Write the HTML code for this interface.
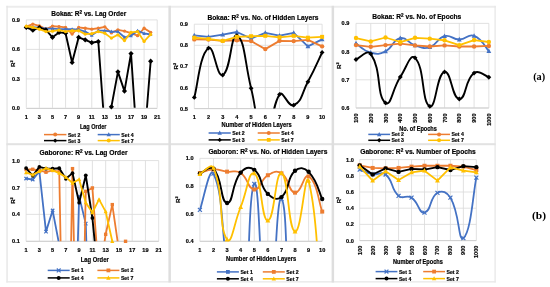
<!DOCTYPE html>
<html><head><meta charset="utf-8"><title>R2 charts</title>
<style>html,body{margin:0;padding:0;background:#fff;} svg{display:block;}</style></head>
<body><svg width="550" height="287" viewBox="0 0 550 287"><rect x="0" y="0" width="550" height="287" fill="#fff"/>
<rect x="6.4" y="5.8" width="489.3" height="1.9" fill="#ececec"/>
<rect x="6.4" y="5.8" width="1.3" height="276.7" fill="#e4e4e4"/>
<rect x="494.5" y="5.8" width="1.2" height="276.7" fill="#e6e6e6"/>
<rect x="6.4" y="281.2" width="489.3" height="1.3" fill="#e8e8e8"/>
<rect x="6.4" y="143.2" width="489.3" height="2" fill="#e2e2e2"/>
<rect x="168.4" y="5.8" width="2.5" height="276.7" fill="#dedede"/>
<rect x="331.6" y="5.8" width="2.5" height="276.7" fill="#dedede"/>
<path d="M26.3,108.4H157.2 M26.3,78.9H157.2 M26.3,49.4H157.2 M26.3,19.9H157.2 M26.3,19.8V107.8 M39.39,19.8V107.8 M52.48,19.8V107.8 M65.57,19.8V107.8 M78.66,19.8V107.8 M91.75,19.8V107.8 M104.84,19.8V107.8 M117.93,19.8V107.8 M131.02,19.8V107.8 M144.11,19.8V107.8 M157.2,19.8V107.8" stroke="#D9D9D9" stroke-width="0.8" fill="none"/>
<path d="M26.3,108.4H157.2" stroke="#cfcfcf" stroke-width="1" fill="none"/>
<text x="19.9" y="110.42" font-size="5.6" font-weight="bold" text-anchor="end" fill="#000" stroke="#000" stroke-width="0.18" font-family='"Liberation Sans", Arial, sans-serif'>0.0</text>
<text x="19.9" y="80.92" font-size="5.6" font-weight="bold" text-anchor="end" fill="#000" stroke="#000" stroke-width="0.18" font-family='"Liberation Sans", Arial, sans-serif'>0.3</text>
<text x="19.9" y="51.42" font-size="5.6" font-weight="bold" text-anchor="end" fill="#000" stroke="#000" stroke-width="0.18" font-family='"Liberation Sans", Arial, sans-serif'>0.6</text>
<text x="19.9" y="21.92" font-size="5.6" font-weight="bold" text-anchor="end" fill="#000" stroke="#000" stroke-width="0.18" font-family='"Liberation Sans", Arial, sans-serif'>0.9</text>
<text x="26.3" y="118.8" font-size="5.6" font-weight="bold" text-anchor="middle" fill="#000" stroke="#000" stroke-width="0.18" font-family='"Liberation Sans", Arial, sans-serif'>1</text>
<text x="39.39" y="118.8" font-size="5.6" font-weight="bold" text-anchor="middle" fill="#000" stroke="#000" stroke-width="0.18" font-family='"Liberation Sans", Arial, sans-serif'>3</text>
<text x="52.48" y="118.8" font-size="5.6" font-weight="bold" text-anchor="middle" fill="#000" stroke="#000" stroke-width="0.18" font-family='"Liberation Sans", Arial, sans-serif'>5</text>
<text x="65.57" y="118.8" font-size="5.6" font-weight="bold" text-anchor="middle" fill="#000" stroke="#000" stroke-width="0.18" font-family='"Liberation Sans", Arial, sans-serif'>7</text>
<text x="78.66" y="118.8" font-size="5.6" font-weight="bold" text-anchor="middle" fill="#000" stroke="#000" stroke-width="0.18" font-family='"Liberation Sans", Arial, sans-serif'>9</text>
<text x="91.75" y="118.8" font-size="5.6" font-weight="bold" text-anchor="middle" fill="#000" stroke="#000" stroke-width="0.18" font-family='"Liberation Sans", Arial, sans-serif'>11</text>
<text x="104.84" y="118.8" font-size="5.6" font-weight="bold" text-anchor="middle" fill="#000" stroke="#000" stroke-width="0.18" font-family='"Liberation Sans", Arial, sans-serif'>13</text>
<text x="117.93" y="118.8" font-size="5.6" font-weight="bold" text-anchor="middle" fill="#000" stroke="#000" stroke-width="0.18" font-family='"Liberation Sans", Arial, sans-serif'>15</text>
<text x="131.02" y="118.8" font-size="5.6" font-weight="bold" text-anchor="middle" fill="#000" stroke="#000" stroke-width="0.18" font-family='"Liberation Sans", Arial, sans-serif'>17</text>
<text x="144.11" y="118.8" font-size="5.6" font-weight="bold" text-anchor="middle" fill="#000" stroke="#000" stroke-width="0.18" font-family='"Liberation Sans", Arial, sans-serif'>19</text>
<text x="157.2" y="118.8" font-size="5.6" font-weight="bold" text-anchor="middle" fill="#000" stroke="#000" stroke-width="0.18" font-family='"Liberation Sans", Arial, sans-serif'>21</text>
<clipPath id="c1"><rect x="23.3" y="16.8" width="136.9" height="91"/></clipPath>
<g clip-path="url(#c1)">
<path d="M26.3,26.64 L32.84,24.13 L39.39,25.84 L45.94,29.16 L52.48,26.24 L59.03,26.64 L65.57,27.45 L72.11,34.08 L78.66,27.45 L85.2,28.25 L91.75,29.16 L98.3,28.25 L104.84,26.94 L111.38,32.88 L117.93,29.86 L124.47,31.07 L131.02,33.18 L137.56,35.69 L144.11,28.25 L150.66,32.37" stroke="#ED7D31" stroke-width="1.8" fill="none" stroke-linejoin="round" stroke-linecap="round"/>
</g>
<circle cx="26.3" cy="26.64" r="1.65" fill="#ED7D31"/>
<circle cx="32.84" cy="24.13" r="1.65" fill="#ED7D31"/>
<circle cx="39.39" cy="25.84" r="1.65" fill="#ED7D31"/>
<circle cx="45.94" cy="29.16" r="1.65" fill="#ED7D31"/>
<circle cx="52.48" cy="26.24" r="1.65" fill="#ED7D31"/>
<circle cx="59.03" cy="26.64" r="1.65" fill="#ED7D31"/>
<circle cx="65.57" cy="27.45" r="1.65" fill="#ED7D31"/>
<circle cx="72.11" cy="34.08" r="1.65" fill="#ED7D31"/>
<circle cx="78.66" cy="27.45" r="1.65" fill="#ED7D31"/>
<circle cx="85.2" cy="28.25" r="1.65" fill="#ED7D31"/>
<circle cx="91.75" cy="29.16" r="1.65" fill="#ED7D31"/>
<circle cx="98.3" cy="28.25" r="1.65" fill="#ED7D31"/>
<circle cx="104.84" cy="26.94" r="1.65" fill="#ED7D31"/>
<circle cx="111.38" cy="32.88" r="1.65" fill="#ED7D31"/>
<circle cx="117.93" cy="29.86" r="1.65" fill="#ED7D31"/>
<circle cx="124.47" cy="31.07" r="1.65" fill="#ED7D31"/>
<circle cx="131.02" cy="33.18" r="1.65" fill="#ED7D31"/>
<circle cx="137.56" cy="35.69" r="1.65" fill="#ED7D31"/>
<circle cx="144.11" cy="28.25" r="1.65" fill="#ED7D31"/>
<circle cx="150.66" cy="32.37" r="1.65" fill="#ED7D31"/>
<g clip-path="url(#c1)">
<path d="M26.3,26.64 L32.84,27.15 L39.39,27.65 L45.94,28.65 L52.48,28.65 L59.03,29.16 L65.57,29.16 L72.11,29.16 L78.66,29.66 L85.2,31.57 L91.75,35.19 L98.3,30.67 L104.84,30.67 L111.38,31.57 L117.93,31.57 L124.47,37.3 L131.02,35.69 L137.56,30.67 L144.11,33.48 L150.66,34.49" stroke="#4472C4" stroke-width="1.8" fill="none" stroke-linejoin="round" stroke-linecap="round"/>
</g>
<polygon points="26.3,24.66 28.1,28.08 24.5,28.08" fill="#4472C4"/>
<polygon points="32.84,25.17 34.64,28.59 31.04,28.59" fill="#4472C4"/>
<polygon points="39.39,25.67 41.19,29.09 37.59,29.09" fill="#4472C4"/>
<polygon points="45.94,26.67 47.73,30.09 44.14,30.09" fill="#4472C4"/>
<polygon points="52.48,26.67 54.28,30.09 50.68,30.09" fill="#4472C4"/>
<polygon points="59.03,27.18 60.83,30.6 57.23,30.6" fill="#4472C4"/>
<polygon points="65.57,27.18 67.37,30.6 63.77,30.6" fill="#4472C4"/>
<polygon points="72.11,27.18 73.91,30.6 70.31,30.6" fill="#4472C4"/>
<polygon points="78.66,27.68 80.46,31.1 76.86,31.1" fill="#4472C4"/>
<polygon points="85.2,29.59 87,33.01 83.41,33.01" fill="#4472C4"/>
<polygon points="91.75,33.21 93.55,36.63 89.95,36.63" fill="#4472C4"/>
<polygon points="98.3,28.69 100.09,32.11 96.5,32.11" fill="#4472C4"/>
<polygon points="104.84,28.69 106.64,32.11 103.04,32.11" fill="#4472C4"/>
<polygon points="111.38,29.59 113.18,33.01 109.58,33.01" fill="#4472C4"/>
<polygon points="117.93,29.59 119.73,33.01 116.13,33.01" fill="#4472C4"/>
<polygon points="124.47,35.32 126.27,38.74 122.67,38.74" fill="#4472C4"/>
<polygon points="131.02,33.71 132.82,37.13 129.22,37.13" fill="#4472C4"/>
<polygon points="137.56,28.69 139.37,32.11 135.76,32.11" fill="#4472C4"/>
<polygon points="144.11,31.5 145.91,34.92 142.31,34.92" fill="#4472C4"/>
<polygon points="150.66,32.51 152.46,35.93 148.85,35.93" fill="#4472C4"/>
<g clip-path="url(#c1)">
<path d="M26.3,27.47 L32.84,30.13 L39.39,27.57 L45.94,29.93 L52.48,37.31 L59.03,32.39 L65.57,33.18 L72.11,62.48 L78.66,37.31 L85.2,39.86 L91.75,42.72 L98.3,41.54 L104.84,130.72 L111.38,106.83 L117.93,71.82 L124.47,91.09 L131.02,53.53 L137.56,150.68 L144.11,143.8 L150.66,61.2" stroke="#000000" stroke-width="1.9" fill="none" stroke-linejoin="round" stroke-linecap="round"/>
</g>
<polygon points="26.3,24.87 28.9,27.47 26.3,30.07 23.7,27.47" fill="#000000"/>
<polygon points="32.84,27.53 35.45,30.13 32.84,32.73 30.24,30.13" fill="#000000"/>
<polygon points="39.39,24.97 41.99,27.57 39.39,30.17 36.79,27.57" fill="#000000"/>
<polygon points="45.94,27.33 48.54,29.93 45.94,32.53 43.34,29.93" fill="#000000"/>
<polygon points="52.48,34.71 55.08,37.31 52.48,39.91 49.88,37.31" fill="#000000"/>
<polygon points="59.03,29.79 61.63,32.39 59.03,34.99 56.43,32.39" fill="#000000"/>
<polygon points="65.57,30.58 68.17,33.18 65.57,35.78 62.97,33.18" fill="#000000"/>
<polygon points="72.11,59.88 74.71,62.48 72.11,65.08 69.52,62.48" fill="#000000"/>
<polygon points="78.66,34.71 81.26,37.31 78.66,39.91 76.06,37.31" fill="#000000"/>
<polygon points="85.2,37.26 87.8,39.86 85.2,42.46 82.61,39.86" fill="#000000"/>
<polygon points="91.75,40.12 94.35,42.72 91.75,45.32 89.15,42.72" fill="#000000"/>
<polygon points="98.3,38.94 100.89,41.54 98.3,44.14 95.7,41.54" fill="#000000"/>
<polygon points="111.38,104.23 113.98,106.83 111.38,109.43 108.78,106.83" fill="#000000"/>
<polygon points="117.93,69.22 120.53,71.82 117.93,74.42 115.33,71.82" fill="#000000"/>
<polygon points="124.47,88.49 127.07,91.09 124.47,93.69 121.88,91.09" fill="#000000"/>
<polygon points="131.02,50.93 133.62,53.53 131.02,56.13 128.42,53.53" fill="#000000"/>
<polygon points="150.66,58.6 153.25,61.2 150.66,63.8 148.06,61.2" fill="#000000"/>
<g clip-path="url(#c1)">
<path d="M26.3,26.24 L32.84,27.35 L39.39,29.16 L45.94,31.57 L52.48,31.17 L59.03,30.16 L65.57,31.57 L72.11,30.77 L78.66,30.77 L85.2,34.08 L91.75,33.68 L98.3,31.57 L104.84,33.18 L111.38,38.11 L117.93,34.79 L124.47,40.62 L131.02,32.37 L137.56,31.57 L144.11,41.43 L150.66,34.49" stroke="#FFC000" stroke-width="1.8" fill="none" stroke-linejoin="round" stroke-linecap="round"/>
</g>
<circle cx="26.3" cy="26.24" r="1.65" fill="#FFC000"/>
<circle cx="32.84" cy="27.35" r="1.65" fill="#FFC000"/>
<circle cx="39.39" cy="29.16" r="1.65" fill="#FFC000"/>
<circle cx="45.94" cy="31.57" r="1.65" fill="#FFC000"/>
<circle cx="52.48" cy="31.17" r="1.65" fill="#FFC000"/>
<circle cx="59.03" cy="30.16" r="1.65" fill="#FFC000"/>
<circle cx="65.57" cy="31.57" r="1.65" fill="#FFC000"/>
<circle cx="72.11" cy="30.77" r="1.65" fill="#FFC000"/>
<circle cx="78.66" cy="30.77" r="1.65" fill="#FFC000"/>
<circle cx="85.2" cy="34.08" r="1.65" fill="#FFC000"/>
<circle cx="91.75" cy="33.68" r="1.65" fill="#FFC000"/>
<circle cx="98.3" cy="31.57" r="1.65" fill="#FFC000"/>
<circle cx="104.84" cy="33.18" r="1.65" fill="#FFC000"/>
<circle cx="111.38" cy="38.11" r="1.65" fill="#FFC000"/>
<circle cx="117.93" cy="34.79" r="1.65" fill="#FFC000"/>
<circle cx="124.47" cy="40.62" r="1.65" fill="#FFC000"/>
<circle cx="131.02" cy="32.37" r="1.65" fill="#FFC000"/>
<circle cx="137.56" cy="31.57" r="1.65" fill="#FFC000"/>
<circle cx="144.11" cy="41.43" r="1.65" fill="#FFC000"/>
<circle cx="150.66" cy="34.49" r="1.65" fill="#FFC000"/>
<g clip-path="url(#c1)">
</g>
<text x="51.2" y="16.1" font-size="7.2" font-weight="bold" text-anchor="start" fill="#000" stroke="#000" stroke-width="0.18" textLength="75" lengthAdjust="spacingAndGlyphs" font-family='"Liberation Sans", Arial, sans-serif'>Bokaa: R<tspan dy="-2.2" font-size="70%">2</tspan><tspan dy="2.2"> </tspan>vs. Lag Order</text>
<text x="79.9" y="128.6" font-size="6.6" font-weight="bold" text-anchor="start" fill="#000" stroke="#000" stroke-width="0.18" textLength="26.5" lengthAdjust="spacingAndGlyphs" font-family='"Liberation Sans", Arial, sans-serif'>Lag Order</text>
<text transform="translate(15,63.8) rotate(-90)" font-size="6.2" font-weight="bold" text-anchor="middle" stroke="#000" stroke-width="0.18" font-family='"Liberation Sans", Arial, sans-serif'>R²</text>
<path d="M44,134.6H66.4" stroke="#ED7D31" stroke-width="1.5"/>
<circle cx="55.2" cy="134.6" r="2" fill="#ED7D31"/>
<text x="67.9" y="136.5" font-size="5.2" font-weight="bold" text-anchor="start" fill="#000" stroke="#000" stroke-width="0.18" font-family='"Liberation Sans", Arial, sans-serif'>Set 2</text>
<path d="M97.7,134.6H119.8" stroke="#4472C4" stroke-width="1.5"/>
<polygon points="108.75,132.18 110.95,136.36 106.55,136.36" fill="#4472C4"/>
<text x="121.3" y="136.5" font-size="5.2" font-weight="bold" text-anchor="start" fill="#000" stroke="#000" stroke-width="0.18" font-family='"Liberation Sans", Arial, sans-serif'>Set 4</text>
<path d="M44,140.6H66.4" stroke="#000000" stroke-width="1.5"/>
<polygon points="55.2,138.4 57.4,140.6 55.2,142.8 53,140.6" fill="#000000"/>
<text x="67.9" y="142.5" font-size="5.2" font-weight="bold" text-anchor="start" fill="#000" stroke="#000" stroke-width="0.18" font-family='"Liberation Sans", Arial, sans-serif'>Set 3</text>
<path d="M97.7,140.6H119.8" stroke="#FFC000" stroke-width="1.5"/>
<circle cx="108.75" cy="140.6" r="2" fill="#FFC000"/>
<text x="121.3" y="142.5" font-size="5.2" font-weight="bold" text-anchor="start" fill="#000" stroke="#000" stroke-width="0.18" font-family='"Liberation Sans", Arial, sans-serif'>Set 7</text>
<path d="M194.3,108.6H322.1 M194.3,87.5H322.1 M194.3,66.4H322.1 M194.3,45.3H322.1 M194.3,24.2H322.1 M194.3,24.2V108.6 M208.5,24.2V108.6 M222.7,24.2V108.6 M236.9,24.2V108.6 M251.1,24.2V108.6 M265.3,24.2V108.6 M279.5,24.2V108.6 M293.7,24.2V108.6 M307.9,24.2V108.6 M322.1,24.2V108.6" stroke="#D9D9D9" stroke-width="0.8" fill="none"/>
<path d="M194.3,108.6H322.1" stroke="#cfcfcf" stroke-width="1" fill="none"/>
<text x="187.9" y="110.62" font-size="5.6" font-weight="bold" text-anchor="end" fill="#000" stroke="#000" stroke-width="0.18" font-family='"Liberation Sans", Arial, sans-serif'>0.5</text>
<text x="187.9" y="89.52" font-size="5.6" font-weight="bold" text-anchor="end" fill="#000" stroke="#000" stroke-width="0.18" font-family='"Liberation Sans", Arial, sans-serif'>0.6</text>
<text x="187.9" y="68.42" font-size="5.6" font-weight="bold" text-anchor="end" fill="#000" stroke="#000" stroke-width="0.18" font-family='"Liberation Sans", Arial, sans-serif'>0.7</text>
<text x="187.9" y="47.32" font-size="5.6" font-weight="bold" text-anchor="end" fill="#000" stroke="#000" stroke-width="0.18" font-family='"Liberation Sans", Arial, sans-serif'>0.8</text>
<text x="187.9" y="26.22" font-size="5.6" font-weight="bold" text-anchor="end" fill="#000" stroke="#000" stroke-width="0.18" font-family='"Liberation Sans", Arial, sans-serif'>0.9</text>
<text x="194.3" y="119" font-size="5.6" font-weight="bold" text-anchor="middle" fill="#000" stroke="#000" stroke-width="0.18" font-family='"Liberation Sans", Arial, sans-serif'>1</text>
<text x="208.5" y="119" font-size="5.6" font-weight="bold" text-anchor="middle" fill="#000" stroke="#000" stroke-width="0.18" font-family='"Liberation Sans", Arial, sans-serif'>2</text>
<text x="222.7" y="119" font-size="5.6" font-weight="bold" text-anchor="middle" fill="#000" stroke="#000" stroke-width="0.18" font-family='"Liberation Sans", Arial, sans-serif'>3</text>
<text x="236.9" y="119" font-size="5.6" font-weight="bold" text-anchor="middle" fill="#000" stroke="#000" stroke-width="0.18" font-family='"Liberation Sans", Arial, sans-serif'>4</text>
<text x="251.1" y="119" font-size="5.6" font-weight="bold" text-anchor="middle" fill="#000" stroke="#000" stroke-width="0.18" font-family='"Liberation Sans", Arial, sans-serif'>5</text>
<text x="265.3" y="119" font-size="5.6" font-weight="bold" text-anchor="middle" fill="#000" stroke="#000" stroke-width="0.18" font-family='"Liberation Sans", Arial, sans-serif'>6</text>
<text x="279.5" y="119" font-size="5.6" font-weight="bold" text-anchor="middle" fill="#000" stroke="#000" stroke-width="0.18" font-family='"Liberation Sans", Arial, sans-serif'>7</text>
<text x="293.7" y="119" font-size="5.6" font-weight="bold" text-anchor="middle" fill="#000" stroke="#000" stroke-width="0.18" font-family='"Liberation Sans", Arial, sans-serif'>8</text>
<text x="307.9" y="119" font-size="5.6" font-weight="bold" text-anchor="middle" fill="#000" stroke="#000" stroke-width="0.18" font-family='"Liberation Sans", Arial, sans-serif'>9</text>
<text x="322.1" y="119" font-size="5.6" font-weight="bold" text-anchor="middle" fill="#000" stroke="#000" stroke-width="0.18" font-family='"Liberation Sans", Arial, sans-serif'>10</text>
<clipPath id="c2"><rect x="191.3" y="21.2" width="133.8" height="87.4"/></clipPath>
<g clip-path="url(#c2)">
<path d="M194.3,35.38 L208.5,36.86 L222.7,34.54 L236.9,32.01 L251.1,38.55 L265.3,32.85 L279.5,35.59 L293.7,32.85 L307.9,46.35 L322.1,39.39" stroke="#4472C4" stroke-width="1.8" fill="none" stroke-linejoin="round" stroke-linecap="round"/>
</g>
<polygon points="194.3,32.74 196.7,37.3 191.9,37.3" fill="#4472C4"/>
<polygon points="208.5,34.22 210.9,38.78 206.1,38.78" fill="#4472C4"/>
<polygon points="222.7,31.9 225.1,36.46 220.3,36.46" fill="#4472C4"/>
<polygon points="236.9,29.37 239.3,33.93 234.5,33.93" fill="#4472C4"/>
<polygon points="251.1,35.91 253.5,40.47 248.7,40.47" fill="#4472C4"/>
<polygon points="265.3,30.21 267.7,34.77 262.9,34.77" fill="#4472C4"/>
<polygon points="279.5,32.95 281.9,37.51 277.1,37.51" fill="#4472C4"/>
<polygon points="293.7,30.21 296.1,34.77 291.3,34.77" fill="#4472C4"/>
<polygon points="307.9,43.71 310.3,48.27 305.5,48.27" fill="#4472C4"/>
<polygon points="322.1,36.75 324.5,41.31 319.7,41.31" fill="#4472C4"/>
<g clip-path="url(#c2)">
<path d="M194.3,39.39 L208.5,39.6 L222.7,40.87 L236.9,40.24 L251.1,41.08 L265.3,49.1 L279.5,40.87 L293.7,41.08 L307.9,39.81 L322.1,46.35" stroke="#ED7D31" stroke-width="1.8" fill="none" stroke-linejoin="round" stroke-linecap="round"/>
</g>
<circle cx="194.3" cy="39.39" r="2.2" fill="#ED7D31"/>
<circle cx="208.5" cy="39.6" r="2.2" fill="#ED7D31"/>
<circle cx="222.7" cy="40.87" r="2.2" fill="#ED7D31"/>
<circle cx="236.9" cy="40.24" r="2.2" fill="#ED7D31"/>
<circle cx="251.1" cy="41.08" r="2.2" fill="#ED7D31"/>
<circle cx="265.3" cy="49.1" r="2.2" fill="#ED7D31"/>
<circle cx="279.5" cy="40.87" r="2.2" fill="#ED7D31"/>
<circle cx="293.7" cy="41.08" r="2.2" fill="#ED7D31"/>
<circle cx="307.9" cy="39.81" r="2.2" fill="#ED7D31"/>
<circle cx="322.1" cy="46.35" r="2.2" fill="#ED7D31"/>
<g clip-path="url(#c2)">
<path d="M194.3,97.42 C197.85,85.07 199.59,55.06 208.5,48.04 C213.79,43.88 216.72,77.67 222.7,75.05 C230.92,71.45 230.73,32.71 236.9,35.59 C244.93,39.35 244.56,61.83 251.1,88.34 C258.76,119.43 257.85,149.2 265.3,150.8 C272.05,152.26 268.63,111.9 279.5,94.46 C282.83,89.11 288.1,107.72 293.7,105.22 C302.3,101.39 301.42,93.85 307.9,81.8 C315.62,67.47 318.55,59.81 322.1,52.47" stroke="#000000" stroke-width="1.9" fill="none" stroke-linejoin="round" stroke-linecap="round"/>
</g>
<polygon points="194.3,95.02 196.7,97.42 194.3,99.82 191.9,97.42" fill="#000000"/>
<polygon points="208.5,45.64 210.9,48.04 208.5,50.44 206.1,48.04" fill="#000000"/>
<polygon points="222.7,72.65 225.1,75.05 222.7,77.45 220.3,75.05" fill="#000000"/>
<polygon points="236.9,33.19 239.3,35.59 236.9,37.99 234.5,35.59" fill="#000000"/>
<polygon points="251.1,85.94 253.5,88.34 251.1,90.74 248.7,88.34" fill="#000000"/>
<polygon points="279.5,92.06 281.9,94.46 279.5,96.86 277.1,94.46" fill="#000000"/>
<polygon points="293.7,102.82 296.1,105.22 293.7,107.62 291.3,105.22" fill="#000000"/>
<polygon points="307.9,79.4 310.3,81.8 307.9,84.2 305.5,81.8" fill="#000000"/>
<polygon points="322.1,50.07 324.5,52.47 322.1,54.87 319.7,52.47" fill="#000000"/>
<g clip-path="url(#c2)">
<path d="M194.3,37.7 L208.5,38.97 L222.7,40.87 L236.9,36.86 L251.1,36.23 L265.3,35.81 L279.5,37.28 L293.7,35.81 L307.9,37.7 L322.1,36.86" stroke="#FFC000" stroke-width="1.8" fill="none" stroke-linejoin="round" stroke-linecap="round"/>
</g>
<rect x="192.3" y="35.7" width="4" height="4" fill="#FFC000"/>
<rect x="206.5" y="36.97" width="4" height="4" fill="#FFC000"/>
<rect x="220.7" y="38.87" width="4" height="4" fill="#FFC000"/>
<rect x="234.9" y="34.86" width="4" height="4" fill="#FFC000"/>
<rect x="249.1" y="34.23" width="4" height="4" fill="#FFC000"/>
<rect x="263.3" y="33.81" width="4" height="4" fill="#FFC000"/>
<rect x="277.5" y="35.28" width="4" height="4" fill="#FFC000"/>
<rect x="291.7" y="33.81" width="4" height="4" fill="#FFC000"/>
<rect x="305.9" y="35.7" width="4" height="4" fill="#FFC000"/>
<rect x="320.1" y="34.86" width="4" height="4" fill="#FFC000"/>
<g clip-path="url(#c2)">
</g>
<text x="207.5" y="19.8" font-size="7" font-weight="bold" text-anchor="start" fill="#000" stroke="#000" stroke-width="0.18" textLength="111" lengthAdjust="spacingAndGlyphs" font-family='"Liberation Sans", Arial, sans-serif'>Bokaa: R<tspan dy="-2.2" font-size="70%">2</tspan><tspan dy="2.2"> </tspan>vs. No. of Hidden Layers</text>
<text x="221.6" y="126.8" font-size="6.4" font-weight="bold" text-anchor="start" fill="#000" stroke="#000" stroke-width="0.18" textLength="70" lengthAdjust="spacingAndGlyphs" font-family='"Liberation Sans", Arial, sans-serif'>Number of Hidden Layers</text>
<text transform="translate(177.6,66.3) rotate(-90)" font-size="6.2" font-weight="bold" text-anchor="middle" stroke="#000" stroke-width="0.18" font-family='"Liberation Sans", Arial, sans-serif'>R²</text>
<path d="M208.6,133H230.8" stroke="#4472C4" stroke-width="1.5"/>
<polygon points="219.7,130.58 221.9,134.76 217.5,134.76" fill="#4472C4"/>
<text x="232.3" y="134.9" font-size="5.2" font-weight="bold" text-anchor="start" fill="#000" stroke="#000" stroke-width="0.18" font-family='"Liberation Sans", Arial, sans-serif'>Set 2</text>
<path d="M257.7,133H279.8" stroke="#ED7D31" stroke-width="1.5"/>
<circle cx="268.75" cy="133" r="2" fill="#ED7D31"/>
<text x="281.3" y="134.9" font-size="5.2" font-weight="bold" text-anchor="start" fill="#000" stroke="#000" stroke-width="0.18" font-family='"Liberation Sans", Arial, sans-serif'>Set 4</text>
<path d="M208.6,139.9H230.8" stroke="#000000" stroke-width="1.5"/>
<polygon points="219.7,137.7 221.9,139.9 219.7,142.1 217.5,139.9" fill="#000000"/>
<text x="232.3" y="141.8" font-size="5.2" font-weight="bold" text-anchor="start" fill="#000" stroke="#000" stroke-width="0.18" font-family='"Liberation Sans", Arial, sans-serif'>Set 3</text>
<path d="M257.7,139.9H279.8" stroke="#FFC000" stroke-width="1.5"/>
<rect x="266.85" y="138" width="3.8" height="3.8" fill="#FFC000"/>
<text x="281.3" y="141.8" font-size="5.2" font-weight="bold" text-anchor="start" fill="#000" stroke="#000" stroke-width="0.18" font-family='"Liberation Sans", Arial, sans-serif'>Set 7</text>
<path d="M356,108H488.8 M356,79.8H488.8 M356,51.6H488.8 M356,23.4H488.8 M356,23.4V108 M370.76,23.4V108 M385.52,23.4V108 M400.28,23.4V108 M415.04,23.4V108 M429.8,23.4V108 M444.56,23.4V108 M459.32,23.4V108 M474.08,23.4V108 M488.84,23.4V108" stroke="#D9D9D9" stroke-width="0.8" fill="none"/>
<path d="M356,108H488.8" stroke="#cfcfcf" stroke-width="1" fill="none"/>
<text x="349.4" y="110.02" font-size="5.6" font-weight="bold" text-anchor="end" fill="#000" stroke="#000" stroke-width="0.18" font-family='"Liberation Sans", Arial, sans-serif'>0.6</text>
<text x="349.4" y="81.82" font-size="5.6" font-weight="bold" text-anchor="end" fill="#000" stroke="#000" stroke-width="0.18" font-family='"Liberation Sans", Arial, sans-serif'>0.7</text>
<text x="349.4" y="53.62" font-size="5.6" font-weight="bold" text-anchor="end" fill="#000" stroke="#000" stroke-width="0.18" font-family='"Liberation Sans", Arial, sans-serif'>0.8</text>
<text x="349.4" y="25.42" font-size="5.6" font-weight="bold" text-anchor="end" fill="#000" stroke="#000" stroke-width="0.18" font-family='"Liberation Sans", Arial, sans-serif'>0.9</text>
<text transform="translate(358.02,113.4) rotate(-90)" font-size="5.6" font-weight="bold" text-anchor="end" stroke="#000" stroke-width="0.18" font-family='"Liberation Sans", Arial, sans-serif'>100</text>
<text transform="translate(372.78,113.4) rotate(-90)" font-size="5.6" font-weight="bold" text-anchor="end" stroke="#000" stroke-width="0.18" font-family='"Liberation Sans", Arial, sans-serif'>200</text>
<text transform="translate(387.54,113.4) rotate(-90)" font-size="5.6" font-weight="bold" text-anchor="end" stroke="#000" stroke-width="0.18" font-family='"Liberation Sans", Arial, sans-serif'>300</text>
<text transform="translate(402.3,113.4) rotate(-90)" font-size="5.6" font-weight="bold" text-anchor="end" stroke="#000" stroke-width="0.18" font-family='"Liberation Sans", Arial, sans-serif'>400</text>
<text transform="translate(417.06,113.4) rotate(-90)" font-size="5.6" font-weight="bold" text-anchor="end" stroke="#000" stroke-width="0.18" font-family='"Liberation Sans", Arial, sans-serif'>500</text>
<text transform="translate(431.82,113.4) rotate(-90)" font-size="5.6" font-weight="bold" text-anchor="end" stroke="#000" stroke-width="0.18" font-family='"Liberation Sans", Arial, sans-serif'>600</text>
<text transform="translate(446.58,113.4) rotate(-90)" font-size="5.6" font-weight="bold" text-anchor="end" stroke="#000" stroke-width="0.18" font-family='"Liberation Sans", Arial, sans-serif'>700</text>
<text transform="translate(461.34,113.4) rotate(-90)" font-size="5.6" font-weight="bold" text-anchor="end" stroke="#000" stroke-width="0.18" font-family='"Liberation Sans", Arial, sans-serif'>800</text>
<text transform="translate(476.1,113.4) rotate(-90)" font-size="5.6" font-weight="bold" text-anchor="end" stroke="#000" stroke-width="0.18" font-family='"Liberation Sans", Arial, sans-serif'>900</text>
<text transform="translate(490.86,113.4) rotate(-90)" font-size="5.6" font-weight="bold" text-anchor="end" stroke="#000" stroke-width="0.18" font-family='"Liberation Sans", Arial, sans-serif'>1000</text>
<clipPath id="c3"><rect x="353" y="20.4" width="138.8" height="87.6"/></clipPath>
<g clip-path="url(#c3)">
<path d="M356,43.42 C359.69,45.75 362.78,50.59 370.76,52.73 C377.54,54.54 379.21,54.45 385.52,51.32 C393.97,47.12 392.22,39.68 400.28,38.06 C406.98,36.72 407.28,43.02 415.04,45.4 C422.04,47.54 423.21,49.17 429.8,47.09 C437.97,44.51 436.46,38.18 444.56,36.09 C451.22,34.37 451.96,39.54 459.32,39.47 C466.72,39.4 467.92,33.39 474.08,35.81 C482.68,39.17 485.15,47.23 488.84,51.04" stroke="#4472C4" stroke-width="1.8" fill="none" stroke-linejoin="round" stroke-linecap="round"/>
</g>
<polygon points="356,40.78 358.4,45.34 353.6,45.34" fill="#4472C4"/>
<polygon points="370.76,50.09 373.16,54.65 368.36,54.65" fill="#4472C4"/>
<polygon points="385.52,48.68 387.92,53.24 383.12,53.24" fill="#4472C4"/>
<polygon points="400.28,35.42 402.68,39.98 397.88,39.98" fill="#4472C4"/>
<polygon points="415.04,42.76 417.44,47.32 412.64,47.32" fill="#4472C4"/>
<polygon points="429.8,44.45 432.2,49.01 427.4,49.01" fill="#4472C4"/>
<polygon points="444.56,33.45 446.96,38.01 442.16,38.01" fill="#4472C4"/>
<polygon points="459.32,36.83 461.72,41.39 456.92,41.39" fill="#4472C4"/>
<polygon points="474.08,33.17 476.48,37.73 471.68,37.73" fill="#4472C4"/>
<polygon points="488.84,48.4 491.24,52.96 486.44,52.96" fill="#4472C4"/>
<g clip-path="url(#c3)">
<path d="M356,45.11 L370.76,46.81 L385.52,45.11 L400.28,43.7 L415.04,45.4 L429.8,46.52 L444.56,45.4 L459.32,46.52 L474.08,46.52 L488.84,45.96" stroke="#ED7D31" stroke-width="1.8" fill="none" stroke-linejoin="round" stroke-linecap="round"/>
</g>
<circle cx="356" cy="45.11" r="2.2" fill="#ED7D31"/>
<circle cx="370.76" cy="46.81" r="2.2" fill="#ED7D31"/>
<circle cx="385.52" cy="45.11" r="2.2" fill="#ED7D31"/>
<circle cx="400.28" cy="43.7" r="2.2" fill="#ED7D31"/>
<circle cx="415.04" cy="45.4" r="2.2" fill="#ED7D31"/>
<circle cx="429.8" cy="46.52" r="2.2" fill="#ED7D31"/>
<circle cx="444.56" cy="45.4" r="2.2" fill="#ED7D31"/>
<circle cx="459.32" cy="46.52" r="2.2" fill="#ED7D31"/>
<circle cx="474.08" cy="46.52" r="2.2" fill="#ED7D31"/>
<circle cx="488.84" cy="45.96" r="2.2" fill="#ED7D31"/>
<g clip-path="url(#c3)">
<path d="M356,59.5 C359.69,58.09 367.28,48.74 370.76,53.86 C382.04,70.45 376.19,95.62 385.52,102.92 C390.95,107.18 392.13,89.44 400.28,76.98 C406.89,66.88 410.27,53.07 415.04,57.8 C425.03,67.73 421.31,102.25 429.8,106.31 C436.07,109.3 436.47,73.91 444.56,71.9 C451.23,70.25 451.82,98.69 459.32,98.98 C466.58,99.25 464.33,80.2 474.08,73.03 C479.09,69.34 485.15,76.2 488.84,77.26" stroke="#000000" stroke-width="1.9" fill="none" stroke-linejoin="round" stroke-linecap="round"/>
</g>
<polygon points="356,57.1 358.4,59.5 356,61.9 353.6,59.5" fill="#000000"/>
<polygon points="370.76,51.46 373.16,53.86 370.76,56.26 368.36,53.86" fill="#000000"/>
<polygon points="385.52,100.52 387.92,102.92 385.52,105.32 383.12,102.92" fill="#000000"/>
<polygon points="400.28,74.58 402.68,76.98 400.28,79.38 397.88,76.98" fill="#000000"/>
<polygon points="415.04,55.4 417.44,57.8 415.04,60.2 412.64,57.8" fill="#000000"/>
<polygon points="429.8,103.91 432.2,106.31 429.8,108.71 427.4,106.31" fill="#000000"/>
<polygon points="444.56,69.5 446.96,71.9 444.56,74.3 442.16,71.9" fill="#000000"/>
<polygon points="459.32,96.58 461.72,98.98 459.32,101.38 456.92,98.98" fill="#000000"/>
<polygon points="474.08,70.63 476.48,73.03 474.08,75.43 471.68,73.03" fill="#000000"/>
<polygon points="488.84,74.86 491.24,77.26 488.84,79.66 486.44,77.26" fill="#000000"/>
<g clip-path="url(#c3)">
<path d="M356,38.06 L370.76,41.45 L385.52,37.5 L400.28,42.01 L415.04,37.78 L429.8,38.63 L444.56,40.32 L459.32,45.11 L474.08,40.04 L488.84,42.01" stroke="#FFC000" stroke-width="1.8" fill="none" stroke-linejoin="round" stroke-linecap="round"/>
</g>
<circle cx="356" cy="38.06" r="2.2" fill="#FFC000"/>
<circle cx="370.76" cy="41.45" r="2.2" fill="#FFC000"/>
<circle cx="385.52" cy="37.5" r="2.2" fill="#FFC000"/>
<circle cx="400.28" cy="42.01" r="2.2" fill="#FFC000"/>
<circle cx="415.04" cy="37.78" r="2.2" fill="#FFC000"/>
<circle cx="429.8" cy="38.63" r="2.2" fill="#FFC000"/>
<circle cx="444.56" cy="40.32" r="2.2" fill="#FFC000"/>
<circle cx="459.32" cy="45.11" r="2.2" fill="#FFC000"/>
<circle cx="474.08" cy="40.04" r="2.2" fill="#FFC000"/>
<circle cx="488.84" cy="42.01" r="2.2" fill="#FFC000"/>
<g clip-path="url(#c3)">
</g>
<text x="372.2" y="18.8" font-size="7" font-weight="bold" text-anchor="start" fill="#000" stroke="#000" stroke-width="0.18" textLength="89" lengthAdjust="spacingAndGlyphs" font-family='"Liberation Sans", Arial, sans-serif'>Bokaa: R<tspan dy="-2.2" font-size="70%">2</tspan><tspan dy="2.2"> </tspan>vs. No. of Epochs</text>
<text x="399.3" y="130.5" font-size="6.4" font-weight="bold" text-anchor="start" fill="#000" stroke="#000" stroke-width="0.18" textLength="37.6" lengthAdjust="spacingAndGlyphs" font-family='"Liberation Sans", Arial, sans-serif'>No. of Epochs</text>
<text transform="translate(341,65.8) rotate(-90)" font-size="6.2" font-weight="bold" text-anchor="middle" stroke="#000" stroke-width="0.18" font-family='"Liberation Sans", Arial, sans-serif'>R²</text>
<path d="M368.3,134.4H390.1" stroke="#4472C4" stroke-width="1.5"/>
<polygon points="379.2,131.98 381.4,136.16 377,136.16" fill="#4472C4"/>
<text x="391.6" y="136.3" font-size="5.2" font-weight="bold" text-anchor="start" fill="#000" stroke="#000" stroke-width="0.18" font-family='"Liberation Sans", Arial, sans-serif'>Set 2</text>
<path d="M428.1,134.4H450" stroke="#ED7D31" stroke-width="1.5"/>
<circle cx="439.05" cy="134.4" r="2" fill="#ED7D31"/>
<text x="451.5" y="136.3" font-size="5.2" font-weight="bold" text-anchor="start" fill="#000" stroke="#000" stroke-width="0.18" font-family='"Liberation Sans", Arial, sans-serif'>Set 4</text>
<path d="M368.3,140.3H390.1" stroke="#000000" stroke-width="1.5"/>
<polygon points="379.2,138.1 381.4,140.3 379.2,142.5 377,140.3" fill="#000000"/>
<text x="391.6" y="142.2" font-size="5.2" font-weight="bold" text-anchor="start" fill="#000" stroke="#000" stroke-width="0.18" font-family='"Liberation Sans", Arial, sans-serif'>Set 3</text>
<path d="M428.1,140.3H450" stroke="#FFC000" stroke-width="1.5"/>
<circle cx="439.05" cy="140.3" r="2" fill="#FFC000"/>
<text x="451.5" y="142.2" font-size="5.2" font-weight="bold" text-anchor="start" fill="#000" stroke="#000" stroke-width="0.18" font-family='"Liberation Sans", Arial, sans-serif'>Set 7</text>
<path d="M26.1,241.3H158.7 M26.1,214.39H158.7 M26.1,187.48H158.7 M26.1,160.57H158.7 M26.1,160.6V241.3 M39.36,160.6V241.3 M52.62,160.6V241.3 M65.88,160.6V241.3 M79.14,160.6V241.3 M92.4,160.6V241.3 M105.66,160.6V241.3 M118.92,160.6V241.3 M132.18,160.6V241.3 M145.44,160.6V241.3 M158.7,160.6V241.3" stroke="#D9D9D9" stroke-width="0.8" fill="none"/>
<path d="M26.1,241.3H158.7" stroke="#cfcfcf" stroke-width="1" fill="none"/>
<text x="19.8" y="243.32" font-size="5.6" font-weight="bold" text-anchor="end" fill="#000" stroke="#000" stroke-width="0.18" font-family='"Liberation Sans", Arial, sans-serif'>0.1</text>
<text x="19.8" y="216.41" font-size="5.6" font-weight="bold" text-anchor="end" fill="#000" stroke="#000" stroke-width="0.18" font-family='"Liberation Sans", Arial, sans-serif'>0.4</text>
<text x="19.8" y="189.5" font-size="5.6" font-weight="bold" text-anchor="end" fill="#000" stroke="#000" stroke-width="0.18" font-family='"Liberation Sans", Arial, sans-serif'>0.7</text>
<text x="19.8" y="162.59" font-size="5.6" font-weight="bold" text-anchor="end" fill="#000" stroke="#000" stroke-width="0.18" font-family='"Liberation Sans", Arial, sans-serif'>1.0</text>
<text x="26.1" y="252.4" font-size="5.6" font-weight="bold" text-anchor="middle" fill="#000" stroke="#000" stroke-width="0.18" font-family='"Liberation Sans", Arial, sans-serif'>1</text>
<text x="39.36" y="252.4" font-size="5.6" font-weight="bold" text-anchor="middle" fill="#000" stroke="#000" stroke-width="0.18" font-family='"Liberation Sans", Arial, sans-serif'>3</text>
<text x="52.62" y="252.4" font-size="5.6" font-weight="bold" text-anchor="middle" fill="#000" stroke="#000" stroke-width="0.18" font-family='"Liberation Sans", Arial, sans-serif'>5</text>
<text x="65.88" y="252.4" font-size="5.6" font-weight="bold" text-anchor="middle" fill="#000" stroke="#000" stroke-width="0.18" font-family='"Liberation Sans", Arial, sans-serif'>7</text>
<text x="79.14" y="252.4" font-size="5.6" font-weight="bold" text-anchor="middle" fill="#000" stroke="#000" stroke-width="0.18" font-family='"Liberation Sans", Arial, sans-serif'>9</text>
<text x="92.4" y="252.4" font-size="5.6" font-weight="bold" text-anchor="middle" fill="#000" stroke="#000" stroke-width="0.18" font-family='"Liberation Sans", Arial, sans-serif'>11</text>
<text x="105.66" y="252.4" font-size="5.6" font-weight="bold" text-anchor="middle" fill="#000" stroke="#000" stroke-width="0.18" font-family='"Liberation Sans", Arial, sans-serif'>13</text>
<text x="118.92" y="252.4" font-size="5.6" font-weight="bold" text-anchor="middle" fill="#000" stroke="#000" stroke-width="0.18" font-family='"Liberation Sans", Arial, sans-serif'>15</text>
<text x="132.18" y="252.4" font-size="5.6" font-weight="bold" text-anchor="middle" fill="#000" stroke="#000" stroke-width="0.18" font-family='"Liberation Sans", Arial, sans-serif'>17</text>
<text x="145.44" y="252.4" font-size="5.6" font-weight="bold" text-anchor="middle" fill="#000" stroke="#000" stroke-width="0.18" font-family='"Liberation Sans", Arial, sans-serif'>19</text>
<text x="158.7" y="252.4" font-size="5.6" font-weight="bold" text-anchor="middle" fill="#000" stroke="#000" stroke-width="0.18" font-family='"Liberation Sans", Arial, sans-serif'>21</text>
<clipPath id="c4"><rect x="23.1" y="157.6" width="138.6" height="83.7"/></clipPath>
<g clip-path="url(#c4)">
<path d="M26.1,178.51 L32.73,179.59 L39.36,171.33 L45.99,231.61 L52.62,210.44 L59.25,244.89 L65.88,429.67 L72.51,429.67 L79.14,196.45 L85.77,223.63 L92.4,429.67" stroke="#4472C4" stroke-width="1.8" fill="none" stroke-linejoin="round" stroke-linecap="round"/>
</g>
<path d="M24.4,176.81 L27.8,180.21 M24.4,180.21 L27.8,176.81" stroke="#4472C4" stroke-width="1.2" fill="none"/>
<path d="M31.03,177.89 L34.43,181.29 M31.03,181.29 L34.43,177.89" stroke="#4472C4" stroke-width="1.2" fill="none"/>
<path d="M37.66,169.63 L41.06,173.03 M37.66,173.03 L41.06,169.63" stroke="#4472C4" stroke-width="1.2" fill="none"/>
<path d="M44.29,229.91 L47.69,233.31 M44.29,233.31 L47.69,229.91" stroke="#4472C4" stroke-width="1.2" fill="none"/>
<path d="M50.92,208.74 L54.32,212.14 M50.92,212.14 L54.32,208.74" stroke="#4472C4" stroke-width="1.2" fill="none"/>
<path d="M77.44,194.75 L80.84,198.15 M77.44,198.15 L80.84,194.75" stroke="#4472C4" stroke-width="1.2" fill="none"/>
<path d="M84.07,221.93 L87.47,225.33 M84.07,225.33 L87.47,221.93" stroke="#4472C4" stroke-width="1.2" fill="none"/>
<g clip-path="url(#c4)">
<path d="M26.1,169.54 L32.73,169.27 L39.36,170.44 L45.99,172.23 L52.62,170.44 L59.25,171.78 L65.88,519.37 L72.51,168.64 L79.14,519.37 L85.77,191.34 L92.4,187.93 L99.03,277.18 L105.66,234.3 L112.29,204.61 L118.92,250.27 L125.55,241.3" stroke="#ED7D31" stroke-width="1.8" fill="none" stroke-linejoin="round" stroke-linecap="round"/>
</g>
<rect x="24.4" y="167.84" width="3.4" height="3.4" fill="#ED7D31"/>
<rect x="31.03" y="167.57" width="3.4" height="3.4" fill="#ED7D31"/>
<rect x="37.66" y="168.74" width="3.4" height="3.4" fill="#ED7D31"/>
<rect x="44.29" y="170.53" width="3.4" height="3.4" fill="#ED7D31"/>
<rect x="50.92" y="168.74" width="3.4" height="3.4" fill="#ED7D31"/>
<rect x="57.55" y="170.08" width="3.4" height="3.4" fill="#ED7D31"/>
<rect x="70.81" y="166.94" width="3.4" height="3.4" fill="#ED7D31"/>
<rect x="84.07" y="189.64" width="3.4" height="3.4" fill="#ED7D31"/>
<rect x="90.7" y="186.23" width="3.4" height="3.4" fill="#ED7D31"/>
<rect x="103.96" y="232.6" width="3.4" height="3.4" fill="#ED7D31"/>
<rect x="110.59" y="202.91" width="3.4" height="3.4" fill="#ED7D31"/>
<rect x="123.85" y="239.6" width="3.4" height="3.4" fill="#ED7D31"/>
<g clip-path="url(#c4)">
<path d="M26.1,168.02 L32.73,175.82 L39.36,166.94 L45.99,168.64 L52.62,168.64 L59.25,168.19 L65.88,178.78 L72.51,173.13 L79.14,202.73 L85.77,175.37 L92.4,217.98 L99.03,286.15" stroke="#000000" stroke-width="1.9" fill="none" stroke-linejoin="round" stroke-linecap="round"/>
</g>
<circle cx="26.1" cy="168.02" r="1.87" fill="#000000"/>
<circle cx="32.73" cy="175.82" r="1.87" fill="#000000"/>
<circle cx="39.36" cy="166.94" r="1.87" fill="#000000"/>
<circle cx="45.99" cy="168.64" r="1.87" fill="#000000"/>
<circle cx="52.62" cy="168.64" r="1.87" fill="#000000"/>
<circle cx="59.25" cy="168.19" r="1.87" fill="#000000"/>
<circle cx="65.88" cy="178.78" r="1.87" fill="#000000"/>
<circle cx="72.51" cy="173.13" r="1.87" fill="#000000"/>
<circle cx="79.14" cy="202.73" r="1.87" fill="#000000"/>
<circle cx="85.77" cy="175.37" r="1.87" fill="#000000"/>
<circle cx="92.4" cy="217.98" r="1.87" fill="#000000"/>
<g clip-path="url(#c4)">
<path d="M26.1,172.5 L32.73,174.92 L39.36,171.42 L45.99,168.19 L52.62,170.44 L59.25,173.13 L65.88,177.16 L72.51,183 L79.14,179.41 L85.77,202.73 L92.4,212.6 L99.03,199.41 L105.66,211.61 L112.29,241.3" stroke="#FFC000" stroke-width="1.8" fill="none" stroke-linejoin="round" stroke-linecap="round"/>
</g>
<polygon points="26.1,170.26 28.14,174.13 24.06,174.13" fill="#FFC000"/>
<polygon points="32.73,172.68 34.77,176.55 30.69,176.55" fill="#FFC000"/>
<polygon points="39.36,169.18 41.4,173.06 37.32,173.06" fill="#FFC000"/>
<polygon points="45.99,165.95 48.03,169.83 43.95,169.83" fill="#FFC000"/>
<polygon points="52.62,168.19 54.66,172.07 50.58,172.07" fill="#FFC000"/>
<polygon points="59.25,170.88 61.29,174.76 57.21,174.76" fill="#FFC000"/>
<polygon points="65.88,174.92 67.92,178.8 63.84,178.8" fill="#FFC000"/>
<polygon points="72.51,180.75 74.55,184.63 70.47,184.63" fill="#FFC000"/>
<polygon points="79.14,177.16 81.18,181.04 77.1,181.04" fill="#FFC000"/>
<polygon points="85.77,200.49 87.81,204.36 83.73,204.36" fill="#FFC000"/>
<polygon points="92.4,210.35 94.44,214.23 90.36,214.23" fill="#FFC000"/>
<polygon points="99.03,197.17 101.07,201.04 96.99,201.04" fill="#FFC000"/>
<polygon points="105.66,209.37 107.7,213.24 103.62,213.24" fill="#FFC000"/>
<polygon points="112.29,239.06 114.33,242.93 110.25,242.93" fill="#FFC000"/>
<g clip-path="url(#c4)">
</g>
<text x="39.5" y="154.7" font-size="7" font-weight="bold" text-anchor="start" fill="#000" stroke="#000" stroke-width="0.18" textLength="88" lengthAdjust="spacingAndGlyphs" font-family='"Liberation Sans", Arial, sans-serif'>Gaborone: R<tspan dy="-2.2" font-size="70%">2</tspan><tspan dy="2.2"> </tspan>vs. Lag Order</text>
<text x="80.7" y="261.6" font-size="6.4" font-weight="bold" text-anchor="start" fill="#000" stroke="#000" stroke-width="0.18" textLength="28" lengthAdjust="spacingAndGlyphs" font-family='"Liberation Sans", Arial, sans-serif'>Lag Order</text>
<text transform="translate(15,200.6) rotate(-90)" font-size="6.2" font-weight="bold" text-anchor="middle" stroke="#000" stroke-width="0.18" font-family='"Liberation Sans", Arial, sans-serif'>R²</text>
<path d="M47.7,270.4H69.7" stroke="#4472C4" stroke-width="1.5"/>
<path d="M56.8,268.5 L60.6,272.3 M56.8,272.3 L60.6,268.5" stroke="#4472C4" stroke-width="1.2" fill="none"/>
<text x="71.2" y="272.3" font-size="5.2" font-weight="bold" text-anchor="start" fill="#000" stroke="#000" stroke-width="0.18" font-family='"Liberation Sans", Arial, sans-serif'>Set 1</text>
<path d="M97.4,270.4H119.4" stroke="#ED7D31" stroke-width="1.5"/>
<rect x="106.5" y="268.5" width="3.8" height="3.8" fill="#ED7D31"/>
<text x="120.9" y="272.3" font-size="5.2" font-weight="bold" text-anchor="start" fill="#000" stroke="#000" stroke-width="0.18" font-family='"Liberation Sans", Arial, sans-serif'>Set 2</text>
<path d="M47.7,277.9H69.7" stroke="#000000" stroke-width="1.5"/>
<circle cx="58.7" cy="277.9" r="2" fill="#000000"/>
<text x="71.2" y="279.8" font-size="5.2" font-weight="bold" text-anchor="start" fill="#000" stroke="#000" stroke-width="0.18" font-family='"Liberation Sans", Arial, sans-serif'>Set 4</text>
<path d="M97.4,277.9H119.4" stroke="#FFC000" stroke-width="1.5"/>
<polygon points="108.4,275.48 110.6,279.66 106.2,279.66" fill="#FFC000"/>
<text x="120.9" y="279.8" font-size="5.2" font-weight="bold" text-anchor="start" fill="#000" stroke="#000" stroke-width="0.18" font-family='"Liberation Sans", Arial, sans-serif'>Set 7</text>
<path d="M199.9,241.3H322.2 M199.9,213.66H322.2 M199.9,186.02H322.2 M199.9,158.38H322.2 M199.9,158.4V241.3 M213.49,158.4V241.3 M227.08,158.4V241.3 M240.67,158.4V241.3 M254.26,158.4V241.3 M267.85,158.4V241.3 M281.44,158.4V241.3 M295.03,158.4V241.3 M308.62,158.4V241.3 M322.21,158.4V241.3" stroke="#D9D9D9" stroke-width="0.8" fill="none"/>
<path d="M199.9,241.3H322.2" stroke="#cfcfcf" stroke-width="1" fill="none"/>
<text x="193.6" y="243.32" font-size="5.6" font-weight="bold" text-anchor="end" fill="#000" stroke="#000" stroke-width="0.18" font-family='"Liberation Sans", Arial, sans-serif'>0.4</text>
<text x="193.6" y="215.68" font-size="5.6" font-weight="bold" text-anchor="end" fill="#000" stroke="#000" stroke-width="0.18" font-family='"Liberation Sans", Arial, sans-serif'>0.6</text>
<text x="193.6" y="188.04" font-size="5.6" font-weight="bold" text-anchor="end" fill="#000" stroke="#000" stroke-width="0.18" font-family='"Liberation Sans", Arial, sans-serif'>0.8</text>
<text x="193.6" y="160.4" font-size="5.6" font-weight="bold" text-anchor="end" fill="#000" stroke="#000" stroke-width="0.18" font-family='"Liberation Sans", Arial, sans-serif'>1.0</text>
<text x="199.9" y="252.4" font-size="5.6" font-weight="bold" text-anchor="middle" fill="#000" stroke="#000" stroke-width="0.18" font-family='"Liberation Sans", Arial, sans-serif'>1</text>
<text x="213.49" y="252.4" font-size="5.6" font-weight="bold" text-anchor="middle" fill="#000" stroke="#000" stroke-width="0.18" font-family='"Liberation Sans", Arial, sans-serif'>2</text>
<text x="227.08" y="252.4" font-size="5.6" font-weight="bold" text-anchor="middle" fill="#000" stroke="#000" stroke-width="0.18" font-family='"Liberation Sans", Arial, sans-serif'>3</text>
<text x="240.67" y="252.4" font-size="5.6" font-weight="bold" text-anchor="middle" fill="#000" stroke="#000" stroke-width="0.18" font-family='"Liberation Sans", Arial, sans-serif'>4</text>
<text x="254.26" y="252.4" font-size="5.6" font-weight="bold" text-anchor="middle" fill="#000" stroke="#000" stroke-width="0.18" font-family='"Liberation Sans", Arial, sans-serif'>5</text>
<text x="267.85" y="252.4" font-size="5.6" font-weight="bold" text-anchor="middle" fill="#000" stroke="#000" stroke-width="0.18" font-family='"Liberation Sans", Arial, sans-serif'>6</text>
<text x="281.44" y="252.4" font-size="5.6" font-weight="bold" text-anchor="middle" fill="#000" stroke="#000" stroke-width="0.18" font-family='"Liberation Sans", Arial, sans-serif'>7</text>
<text x="295.03" y="252.4" font-size="5.6" font-weight="bold" text-anchor="middle" fill="#000" stroke="#000" stroke-width="0.18" font-family='"Liberation Sans", Arial, sans-serif'>8</text>
<text x="308.62" y="252.4" font-size="5.6" font-weight="bold" text-anchor="middle" fill="#000" stroke="#000" stroke-width="0.18" font-family='"Liberation Sans", Arial, sans-serif'>9</text>
<text x="322.21" y="252.4" font-size="5.6" font-weight="bold" text-anchor="middle" fill="#000" stroke="#000" stroke-width="0.18" font-family='"Liberation Sans", Arial, sans-serif'>10</text>
<clipPath id="c5"><rect x="196.9" y="155.4" width="128.3" height="85.9"/></clipPath>
<g clip-path="url(#c5)">
<path d="M199.9,209.93 C203.3,200.84 209.59,165.11 213.49,173.58 C223.18,194.61 220.78,221.2 227.08,268.94 C234.37,324.15 235.75,394.92 240.67,379.5 C249.34,352.35 246.66,195.39 254.26,183.81 C260.25,174.66 260.71,334.08 267.85,338.04 C274.3,341.61 275.25,192.58 281.44,198.87 C288.84,206.4 284.25,315.97 295.03,365.68 C297.84,378.64 300.65,344.47 308.62,324.22 C314.24,309.92 318.81,303.49 322.21,296.58" stroke="#4472C4" stroke-width="1.8" fill="none" stroke-linejoin="round" stroke-linecap="round"/>
</g>
<path d="M197.9,207.93 L201.9,211.93 M197.9,211.93 L201.9,207.93" stroke="#4472C4" stroke-width="1.2" fill="none"/>
<path d="M211.49,171.58 L215.49,175.58 M211.49,175.58 L215.49,171.58" stroke="#4472C4" stroke-width="1.2" fill="none"/>
<path d="M252.26,181.81 L256.26,185.81 M252.26,185.81 L256.26,181.81" stroke="#4472C4" stroke-width="1.2" fill="none"/>
<path d="M279.44,196.87 L283.44,200.87 M279.44,200.87 L283.44,196.87" stroke="#4472C4" stroke-width="1.2" fill="none"/>
<g clip-path="url(#c5)">
<path d="M199.9,173.03 C203.3,172.13 206.62,169.79 213.49,169.44 C220.21,169.09 220.25,170.78 227.08,171.65 C233.84,172.51 235.38,169.42 240.67,172.89 C248.97,178.34 247.17,188.86 254.26,189.48 C260.76,190.04 259.84,180 267.85,175.24 C273.43,171.92 276.45,170.11 281.44,173.31 C290.04,178.81 287.87,191.85 295.03,192.65 C301.46,193.37 303.73,172.94 308.62,176.35 C317.32,182.41 318.81,202.78 322.21,211.59" stroke="#ED7D31" stroke-width="1.8" fill="none" stroke-linejoin="round" stroke-linecap="round"/>
</g>
<rect x="197.9" y="171.03" width="4" height="4" fill="#ED7D31"/>
<rect x="211.49" y="167.44" width="4" height="4" fill="#ED7D31"/>
<rect x="225.08" y="169.65" width="4" height="4" fill="#ED7D31"/>
<rect x="238.67" y="170.89" width="4" height="4" fill="#ED7D31"/>
<rect x="252.26" y="187.48" width="4" height="4" fill="#ED7D31"/>
<rect x="265.85" y="173.24" width="4" height="4" fill="#ED7D31"/>
<rect x="279.44" y="171.31" width="4" height="4" fill="#ED7D31"/>
<rect x="293.03" y="190.65" width="4" height="4" fill="#ED7D31"/>
<rect x="306.62" y="174.35" width="4" height="4" fill="#ED7D31"/>
<rect x="320.21" y="209.59" width="4" height="4" fill="#ED7D31"/>
<g clip-path="url(#c5)">
<path d="M199.9,173.58 C203.3,172.37 209.67,164.61 213.49,168.75 C223.26,179.32 219.94,202 227.08,203.02 C233.53,203.94 231.08,184.32 240.67,172.61 C244.67,167.74 249.72,166.29 254.26,169.85 C263.31,176.94 258.82,184.85 267.85,193.9 C272.41,198.47 277.08,200.78 281.44,197.08 C290.67,189.24 285.73,179.47 295.03,170.82 C299.32,166.83 304.42,167.43 308.62,171.79 C318.01,181.52 318.81,192.2 322.21,199.01" stroke="#000000" stroke-width="1.9" fill="none" stroke-linejoin="round" stroke-linecap="round"/>
</g>
<circle cx="199.9" cy="173.58" r="2.2" fill="#000000"/>
<circle cx="213.49" cy="168.75" r="2.2" fill="#000000"/>
<circle cx="227.08" cy="203.02" r="2.2" fill="#000000"/>
<circle cx="240.67" cy="172.61" r="2.2" fill="#000000"/>
<circle cx="254.26" cy="169.85" r="2.2" fill="#000000"/>
<circle cx="267.85" cy="193.9" r="2.2" fill="#000000"/>
<circle cx="281.44" cy="197.08" r="2.2" fill="#000000"/>
<circle cx="295.03" cy="170.82" r="2.2" fill="#000000"/>
<circle cx="308.62" cy="171.79" r="2.2" fill="#000000"/>
<circle cx="322.21" cy="199.01" r="2.2" fill="#000000"/>
<g clip-path="url(#c5)">
<path d="M199.9,174 C203.3,172.48 211.18,162.36 213.49,167.92 C224.77,195.11 217.92,226.32 227.08,239.5 C231.51,245.87 233.97,223.3 240.67,207.03 C247.56,190.28 248.49,170.57 254.26,173.44 C262.08,177.34 261.07,220.64 267.85,220.57 C274.66,220.5 275.31,170.67 281.44,173.17 C288.9,176.2 287.78,229.56 295.03,231.63 C301.37,233.43 305.23,167.62 308.62,180.91 C318.82,220.82 318.81,298.76 322.21,338.04" stroke="#FFC000" stroke-width="1.8" fill="none" stroke-linejoin="round" stroke-linecap="round"/>
</g>
<polygon points="199.9,171.36 202.3,175.92 197.5,175.92" fill="#FFC000"/>
<polygon points="213.49,165.28 215.89,169.84 211.09,169.84" fill="#FFC000"/>
<polygon points="227.08,236.86 229.48,241.42 224.68,241.42" fill="#FFC000"/>
<polygon points="240.67,204.39 243.07,208.95 238.27,208.95" fill="#FFC000"/>
<polygon points="254.26,170.8 256.66,175.36 251.86,175.36" fill="#FFC000"/>
<polygon points="267.85,217.93 270.25,222.49 265.45,222.49" fill="#FFC000"/>
<polygon points="281.44,170.53 283.84,175.09 279.04,175.09" fill="#FFC000"/>
<polygon points="295.03,228.99 297.43,233.55 292.63,233.55" fill="#FFC000"/>
<polygon points="308.62,178.27 311.02,182.83 306.22,182.83" fill="#FFC000"/>
<g clip-path="url(#c5)">
</g>
<text x="208.4" y="154.3" font-size="7" font-weight="bold" text-anchor="start" fill="#000" stroke="#000" stroke-width="0.18" textLength="119" lengthAdjust="spacingAndGlyphs" font-family='"Liberation Sans", Arial, sans-serif'>Gaboron: R<tspan dy="-2.2" font-size="70%">2</tspan><tspan dy="2.2"> </tspan>vs. No. of Hidden Layers</text>
<text x="226.1" y="260.7" font-size="6.4" font-weight="bold" text-anchor="start" fill="#000" stroke="#000" stroke-width="0.18" textLength="70" lengthAdjust="spacingAndGlyphs" font-family='"Liberation Sans", Arial, sans-serif'>Number of Hidden Layers</text>
<text transform="translate(180.3,199.8) rotate(-90)" font-size="6.2" font-weight="bold" text-anchor="middle" stroke="#000" stroke-width="0.18" font-family='"Liberation Sans", Arial, sans-serif'>R²</text>
<path d="M216.9,271.9H238.9" stroke="#4472C4" stroke-width="1.5"/>
<rect x="226" y="270" width="3.8" height="3.8" fill="#4472C4"/>
<text x="240.4" y="273.8" font-size="5.2" font-weight="bold" text-anchor="start" fill="#000" stroke="#000" stroke-width="0.18" font-family='"Liberation Sans", Arial, sans-serif'>Set 1</text>
<path d="M262.8,271.9H284.8" stroke="#ED7D31" stroke-width="1.5"/>
<rect x="271.9" y="270" width="3.8" height="3.8" fill="#ED7D31"/>
<text x="286.3" y="273.8" font-size="5.2" font-weight="bold" text-anchor="start" fill="#000" stroke="#000" stroke-width="0.18" font-family='"Liberation Sans", Arial, sans-serif'>Set 2</text>
<path d="M216.9,278.8H238.9" stroke="#000000" stroke-width="1.5"/>
<circle cx="227.9" cy="278.8" r="2" fill="#000000"/>
<text x="240.4" y="280.7" font-size="5.2" font-weight="bold" text-anchor="start" fill="#000" stroke="#000" stroke-width="0.18" font-family='"Liberation Sans", Arial, sans-serif'>Set 4</text>
<path d="M262.8,278.8H284.8" stroke="#FFC000" stroke-width="1.5"/>
<polygon points="273.8,276.38 276,280.56 271.6,280.56" fill="#FFC000"/>
<text x="286.3" y="280.7" font-size="5.2" font-weight="bold" text-anchor="start" fill="#000" stroke="#000" stroke-width="0.18" font-family='"Liberation Sans", Arial, sans-serif'>Set 7</text>
<path d="M359.7,240.6H476.3 M359.7,224.4H476.3 M359.7,208.2H476.3 M359.7,192H476.3 M359.7,175.8H476.3 M359.7,159.6H476.3 M359.7,159.6V240.6 M372.66,159.6V240.6 M385.62,159.6V240.6 M398.58,159.6V240.6 M411.54,159.6V240.6 M424.5,159.6V240.6 M437.46,159.6V240.6 M450.42,159.6V240.6 M463.38,159.6V240.6 M476.34,159.6V240.6" stroke="#D9D9D9" stroke-width="0.8" fill="none"/>
<path d="M359.7,240.6H476.3" stroke="#cfcfcf" stroke-width="1" fill="none"/>
<text x="353.9" y="242.62" font-size="5.6" font-weight="bold" text-anchor="end" fill="#000" stroke="#000" stroke-width="0.18" font-family='"Liberation Sans", Arial, sans-serif'>0.0</text>
<text x="353.9" y="226.42" font-size="5.6" font-weight="bold" text-anchor="end" fill="#000" stroke="#000" stroke-width="0.18" font-family='"Liberation Sans", Arial, sans-serif'>0.2</text>
<text x="353.9" y="210.22" font-size="5.6" font-weight="bold" text-anchor="end" fill="#000" stroke="#000" stroke-width="0.18" font-family='"Liberation Sans", Arial, sans-serif'>0.4</text>
<text x="353.9" y="194.02" font-size="5.6" font-weight="bold" text-anchor="end" fill="#000" stroke="#000" stroke-width="0.18" font-family='"Liberation Sans", Arial, sans-serif'>0.6</text>
<text x="353.9" y="177.82" font-size="5.6" font-weight="bold" text-anchor="end" fill="#000" stroke="#000" stroke-width="0.18" font-family='"Liberation Sans", Arial, sans-serif'>0.8</text>
<text x="353.9" y="161.62" font-size="5.6" font-weight="bold" text-anchor="end" fill="#000" stroke="#000" stroke-width="0.18" font-family='"Liberation Sans", Arial, sans-serif'>1.0</text>
<text transform="translate(361.72,245.6) rotate(-90)" font-size="5.6" font-weight="bold" text-anchor="end" stroke="#000" stroke-width="0.18" font-family='"Liberation Sans", Arial, sans-serif'>100</text>
<text transform="translate(374.68,245.6) rotate(-90)" font-size="5.6" font-weight="bold" text-anchor="end" stroke="#000" stroke-width="0.18" font-family='"Liberation Sans", Arial, sans-serif'>200</text>
<text transform="translate(387.64,245.6) rotate(-90)" font-size="5.6" font-weight="bold" text-anchor="end" stroke="#000" stroke-width="0.18" font-family='"Liberation Sans", Arial, sans-serif'>300</text>
<text transform="translate(400.6,245.6) rotate(-90)" font-size="5.6" font-weight="bold" text-anchor="end" stroke="#000" stroke-width="0.18" font-family='"Liberation Sans", Arial, sans-serif'>400</text>
<text transform="translate(413.56,245.6) rotate(-90)" font-size="5.6" font-weight="bold" text-anchor="end" stroke="#000" stroke-width="0.18" font-family='"Liberation Sans", Arial, sans-serif'>500</text>
<text transform="translate(426.52,245.6) rotate(-90)" font-size="5.6" font-weight="bold" text-anchor="end" stroke="#000" stroke-width="0.18" font-family='"Liberation Sans", Arial, sans-serif'>600</text>
<text transform="translate(439.48,245.6) rotate(-90)" font-size="5.6" font-weight="bold" text-anchor="end" stroke="#000" stroke-width="0.18" font-family='"Liberation Sans", Arial, sans-serif'>700</text>
<text transform="translate(452.44,245.6) rotate(-90)" font-size="5.6" font-weight="bold" text-anchor="end" stroke="#000" stroke-width="0.18" font-family='"Liberation Sans", Arial, sans-serif'>800</text>
<text transform="translate(465.4,245.6) rotate(-90)" font-size="5.6" font-weight="bold" text-anchor="end" stroke="#000" stroke-width="0.18" font-family='"Liberation Sans", Arial, sans-serif'>900</text>
<text transform="translate(478.36,245.6) rotate(-90)" font-size="5.6" font-weight="bold" text-anchor="end" stroke="#000" stroke-width="0.18" font-family='"Liberation Sans", Arial, sans-serif'>1000</text>
<clipPath id="c6"><rect x="356.7" y="156.6" width="122.6" height="84"/></clipPath>
<g clip-path="url(#c6)">
<path d="M359.7,169.56 C362.94,170.72 365.99,172.91 372.66,174.18 C378.95,175.38 381.19,170.81 385.62,174.5 C394.15,181.62 390.08,188.21 398.58,195.81 C403.04,199.8 406.38,194.32 411.54,197.67 C419.34,202.74 418.6,213.76 424.5,212.66 C431.56,211.33 429.28,197.54 437.46,192.81 C442.24,190.05 447.24,192.1 450.42,197.67 C460.2,214.78 458.11,242.26 463.38,238.17 C471.07,232.21 473.1,192.73 476.34,177.58" stroke="#4472C4" stroke-width="1.8" fill="none" stroke-linejoin="round" stroke-linecap="round"/>
</g>
<path d="M357.7,167.56 L361.7,171.56 M357.7,171.56 L361.7,167.56" stroke="#4472C4" stroke-width="1.2" fill="none"/>
<path d="M370.66,172.18 L374.66,176.18 M370.66,176.18 L374.66,172.18" stroke="#4472C4" stroke-width="1.2" fill="none"/>
<path d="M383.62,172.5 L387.62,176.5 M383.62,176.5 L387.62,172.5" stroke="#4472C4" stroke-width="1.2" fill="none"/>
<path d="M396.58,193.81 L400.58,197.81 M396.58,197.81 L400.58,193.81" stroke="#4472C4" stroke-width="1.2" fill="none"/>
<path d="M409.54,195.67 L413.54,199.67 M409.54,199.67 L413.54,195.67" stroke="#4472C4" stroke-width="1.2" fill="none"/>
<path d="M422.5,210.66 L426.5,214.66 M422.5,214.66 L426.5,210.66" stroke="#4472C4" stroke-width="1.2" fill="none"/>
<path d="M435.46,190.81 L439.46,194.81 M435.46,194.81 L439.46,190.81" stroke="#4472C4" stroke-width="1.2" fill="none"/>
<path d="M448.42,195.67 L452.42,199.67 M448.42,199.67 L452.42,195.67" stroke="#4472C4" stroke-width="1.2" fill="none"/>
<path d="M461.38,236.17 L465.38,240.17 M461.38,240.17 L465.38,236.17" stroke="#4472C4" stroke-width="1.2" fill="none"/>
<path d="M474.34,175.58 L478.34,179.58 M474.34,179.58 L478.34,175.58" stroke="#4472C4" stroke-width="1.2" fill="none"/>
<g clip-path="url(#c6)">
<path d="M359.7,165.35 L372.66,167.94 L385.62,168.35 L398.58,167.94 L411.54,166.65 L424.5,165.76 L437.46,165.76 L450.42,165.76 L463.38,166.65 L476.34,170.05" stroke="#ED7D31" stroke-width="1.8" fill="none" stroke-linejoin="round" stroke-linecap="round"/>
</g>
<rect x="357.7" y="163.35" width="4" height="4" fill="#ED7D31"/>
<rect x="370.66" y="165.94" width="4" height="4" fill="#ED7D31"/>
<rect x="383.62" y="166.35" width="4" height="4" fill="#ED7D31"/>
<rect x="396.58" y="165.94" width="4" height="4" fill="#ED7D31"/>
<rect x="409.54" y="164.65" width="4" height="4" fill="#ED7D31"/>
<rect x="422.5" y="163.76" width="4" height="4" fill="#ED7D31"/>
<rect x="435.46" y="163.76" width="4" height="4" fill="#ED7D31"/>
<rect x="448.42" y="163.76" width="4" height="4" fill="#ED7D31"/>
<rect x="461.38" y="164.65" width="4" height="4" fill="#ED7D31"/>
<rect x="474.34" y="168.05" width="4" height="4" fill="#ED7D31"/>
<g clip-path="url(#c6)">
<path d="M359.7,165.35 L372.66,174.5 L385.62,168.35 L398.58,171.91 L411.54,168.83 L424.5,169.56 L437.46,167.13 L450.42,170.05 L463.38,166.08 L476.34,167.13" stroke="#000000" stroke-width="1.9" fill="none" stroke-linejoin="round" stroke-linecap="round"/>
</g>
<circle cx="359.7" cy="165.35" r="2.2" fill="#000000"/>
<circle cx="372.66" cy="174.5" r="2.2" fill="#000000"/>
<circle cx="385.62" cy="168.35" r="2.2" fill="#000000"/>
<circle cx="398.58" cy="171.91" r="2.2" fill="#000000"/>
<circle cx="411.54" cy="168.83" r="2.2" fill="#000000"/>
<circle cx="424.5" cy="169.56" r="2.2" fill="#000000"/>
<circle cx="437.46" cy="167.13" r="2.2" fill="#000000"/>
<circle cx="450.42" cy="170.05" r="2.2" fill="#000000"/>
<circle cx="463.38" cy="166.08" r="2.2" fill="#000000"/>
<circle cx="476.34" cy="167.13" r="2.2" fill="#000000"/>
<g clip-path="url(#c6)">
<path d="M359.7,166.65 L372.66,180.66 L385.62,171.34 L398.58,180.09 L411.54,172.4 L424.5,170.7 L437.46,180.66 L450.42,167.46 L463.38,170.7 L476.34,172.4" stroke="#FFC000" stroke-width="1.8" fill="none" stroke-linejoin="round" stroke-linecap="round"/>
</g>
<polygon points="359.7,164.01 362.1,168.57 357.3,168.57" fill="#FFC000"/>
<polygon points="372.66,178.02 375.06,182.58 370.26,182.58" fill="#FFC000"/>
<polygon points="385.62,168.71 388.02,173.26 383.22,173.26" fill="#FFC000"/>
<polygon points="398.58,177.45 400.98,182.01 396.18,182.01" fill="#FFC000"/>
<polygon points="411.54,169.76 413.94,174.32 409.14,174.32" fill="#FFC000"/>
<polygon points="424.5,168.06 426.9,172.62 422.1,172.62" fill="#FFC000"/>
<polygon points="437.46,178.02 439.86,182.58 435.06,182.58" fill="#FFC000"/>
<polygon points="450.42,164.82 452.82,169.38 448.02,169.38" fill="#FFC000"/>
<polygon points="463.38,168.06 465.78,172.62 460.98,172.62" fill="#FFC000"/>
<polygon points="476.34,169.76 478.74,174.32 473.94,174.32" fill="#FFC000"/>
<g clip-path="url(#c6)">
</g>
<text x="360.2" y="154.2" font-size="7" font-weight="bold" text-anchor="start" fill="#000" stroke="#000" stroke-width="0.18" textLength="115.6" lengthAdjust="spacingAndGlyphs" font-family='"Liberation Sans", Arial, sans-serif'>Gaborone: R<tspan dy="-2.2" font-size="70%">2</tspan><tspan dy="2.2"> </tspan>vs. Number of Epochs</text>
<text x="393" y="263.5" font-size="6.4" font-weight="bold" text-anchor="start" fill="#000" stroke="#000" stroke-width="0.18" textLength="49.8" lengthAdjust="spacingAndGlyphs" font-family='"Liberation Sans", Arial, sans-serif'>Number of Epochs</text>
<text transform="translate(340.6,200.1) rotate(-90)" font-size="6" font-weight="bold" text-anchor="middle" stroke="#000" stroke-width="0.18" font-family='"Liberation Sans", Arial, sans-serif'>R²</text>
<path d="M375.6,271.6H397.4" stroke="#4472C4" stroke-width="1.5"/>
<path d="M384.6,269.7 L388.4,273.5 M384.6,273.5 L388.4,269.7" stroke="#4472C4" stroke-width="1.2" fill="none"/>
<text x="398.9" y="273.5" font-size="5.2" font-weight="bold" text-anchor="start" fill="#000" stroke="#000" stroke-width="0.18" font-family='"Liberation Sans", Arial, sans-serif'>Set 1</text>
<path d="M423.2,271.6H445" stroke="#ED7D31" stroke-width="1.5"/>
<rect x="432.2" y="269.7" width="3.8" height="3.8" fill="#ED7D31"/>
<text x="446.5" y="273.5" font-size="5.2" font-weight="bold" text-anchor="start" fill="#000" stroke="#000" stroke-width="0.18" font-family='"Liberation Sans", Arial, sans-serif'>Set 2</text>
<path d="M375.6,278.6H397.4" stroke="#000000" stroke-width="1.5"/>
<circle cx="386.5" cy="278.6" r="2" fill="#000000"/>
<text x="398.9" y="280.5" font-size="5.2" font-weight="bold" text-anchor="start" fill="#000" stroke="#000" stroke-width="0.18" font-family='"Liberation Sans", Arial, sans-serif'>Set 4</text>
<path d="M423.2,278.6H445" stroke="#FFC000" stroke-width="1.5"/>
<polygon points="434.1,276.18 436.3,280.36 431.9,280.36" fill="#FFC000"/>
<text x="446.5" y="280.5" font-size="5.2" font-weight="bold" text-anchor="start" fill="#000" stroke="#000" stroke-width="0.18" font-family='"Liberation Sans", Arial, sans-serif'>Set 7</text>
<text x="533.2" y="80.3" font-size="10.6" font-weight="bold" text-anchor="start" fill="#000" textLength="12" lengthAdjust="spacingAndGlyphs" font-family='"Liberation Serif", serif'>(a)</text>
<text x="532" y="218.8" font-size="10.6" font-weight="bold" text-anchor="start" fill="#000" textLength="14" lengthAdjust="spacingAndGlyphs" font-family='"Liberation Serif", serif'>(b)</text></svg></body></html>
